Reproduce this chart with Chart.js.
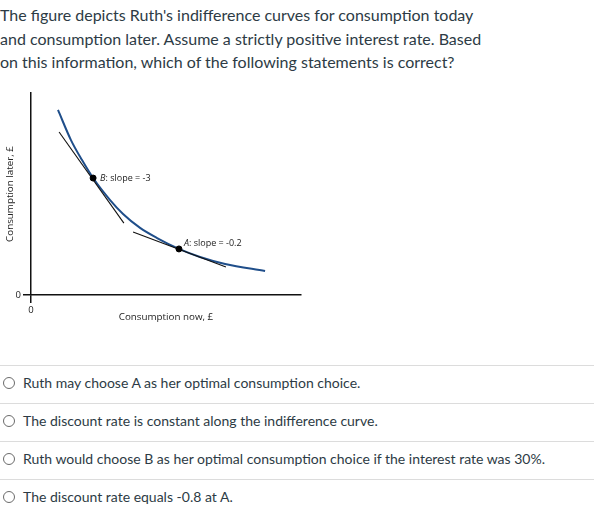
<!DOCTYPE html>
<html>
<head>
<meta charset="utf-8">
<script src="https://cdn.jsdelivr.net/npm/chart.js@4.4.1/dist/chart.umd.min.js"></script>
<style>
  html, body { margin: 0; padding: 0; background: #fff; }
  body { width: 594px; height: 525px; position: relative; overflow: hidden; font-family: Lato, sans-serif; color: #2d3b45; }
  #q { position: absolute; left: 0; top: 3px; width: 594px; font-size: 16px; line-height: 23.5px; }
  #wrap { position: absolute; left: 0; top: 80px; width: 310px; height: 250px; }
  .opt { position: absolute; left: 0; width: 594px; height: 38px; border-top: 1px solid #dcdcdc; font-size: 14px; }
  .opt .rb { position: absolute; left: 3px; top: 11px; width: 10px; height: 10px; border: 1px solid #6b6b6b; border-radius: 50%; }
  .opt .t { position: absolute; left: 23px; top: 0; line-height: 34px; }
</style>
</head>
<body>
<div id="q">The figure depicts Ruth's indifference curves for consumption today<br>and consumption later. Assume a strictly positive interest rate. Based<br>on this information, which of the following statements is correct?</div>
<div id="wrap"><canvas id="c"></canvas></div>
<div class="opt" style="top:365px"><div class="rb"></div><div class="t">Ruth may choose A as her optimal consumption choice.</div></div>
<div class="opt" style="top:403px"><div class="rb"></div><div class="t">The discount rate is constant along the indifference curve.</div></div>
<div class="opt" style="top:441px"><div class="rb"></div><div class="t">Ruth would choose B as her optimal consumption choice if the interest rate was 30%.</div></div>
<div class="opt" style="top:479px"><div class="rb"></div><div class="t">The discount rate equals -0.8 at A.</div></div>
<script>
// Indifference curve (consumption now, consumption later)
const curveX = [1.00, 1.48, 1.89, 2.30, 2.93, 3.41, 4.04, 4.67, 5.48, 6.26, 7.19, 8.67];
const curveY = [9.16, 7.67, 6.68, 5.79, 4.70, 4.01, 3.32, 2.82, 2.28, 1.88, 1.53, 1.19];
// Tangent lines
const tangentBX = [1.04, 3.44];
const tangentBY = [8.07, 3.56];
const tangentAX = [3.78, 7.22];
const tangentAY = [3.12, 1.39];
// Marked points
const pointNames = ['B', 'A'];
const pointX = [2.30, 5.48];
const pointY = [5.79, 2.28];
const pointLabels = [': slope = -3', ': slope = -0.2'];
// Axis ticks
const xTicks = [0];
const yTicks = [0];
const xTitle = 'Consumption now, £';
const yTitle = 'Consumption later, £';

const zip = (xs, ys) => xs.map((x, i) => ({ x: x, y: ys[i] }));

const labelPlugin = {
  id: 'pointLabels',
  afterDatasetsDraw(chart) {
    const ctx = chart.ctx;
    const xs = chart.scales.x, ys = chart.scales.y;
    const offsets = [[7, 0], [5, -6]];
    ctx.save();
    ctx.fillStyle = '#222';
    ctx.textBaseline = 'middle';
    pointNames.forEach((n, i) => {
      let px = xs.getPixelForValue(pointX[i]) + offsets[i][0];
      const py = ys.getPixelForValue(pointY[i]) + offsets[i][1];
      ctx.font = 'italic 9px "Open Sans"';
      ctx.fillText(n, px, py);
      px += ctx.measureText(n).width;
      ctx.font = '9px "Open Sans"';
      ctx.fillText(pointLabels[i], px, py);
    });
    ctx.restore();
  }
};

const axisCommon = (ticksArr, title) => ({
  type: 'linear', min: 0, max: 10,
  afterBuildTicks: s => { s.ticks = ticksArr.map(v => ({ value: v })); },
  ticks: { color: '#222', font: { family: 'Open Sans', size: 9.5 }, padding: 2, autoSkip: false },
  grid: { drawOnChartArea: false, drawTicks: true, tickLength: 8, color: '#111', lineWidth: 1.5 },
  border: { display: true, color: '#111', width: 1.5 },
  title: { display: true, text: title, color: '#222', font: { family: 'Open Sans', size: 9.8 }, padding: { top: 4, bottom: 4 } }
});

const xAxis = axisCommon(xTicks, xTitle);
xAxis.afterFit = s => { s.height = 35; };
xAxis.title.padding = { top: 7, bottom: 7 };
const yAxis = axisCommon(yTicks, yTitle);
yAxis.afterFit = s => { s.width = 31; };

new Chart(document.getElementById('c'), {
  type: 'scatter',
  data: {
    datasets: [
      { data: zip(pointX, pointY), pointRadius: 3, pointBackgroundColor: '#000', pointBorderColor: '#000', showLine: false },
      { data: zip(tangentBX, tangentBY), showLine: true, borderColor: '#111', borderWidth: 1.1, pointRadius: 0 },
      { data: zip(tangentAX, tangentAY), showLine: true, borderColor: '#111', borderWidth: 1.1, pointRadius: 0 },
      { data: zip(curveX, curveY), showLine: true, borderColor: '#1f4e8a', borderWidth: 2, pointRadius: 0, cubicInterpolationMode: 'monotone' }
    ]
  },
  options: {
    responsive: true, maintainAspectRatio: false, animation: false,
    layout: { padding: { top: 13, right: 9, left: 0, bottom: 0 } },
    plugins: { legend: { display: false }, tooltip: { enabled: false } },
    scales: { x: xAxis, y: yAxis }
  },
  plugins: [labelPlugin]
});
</script>
</body>
</html>
